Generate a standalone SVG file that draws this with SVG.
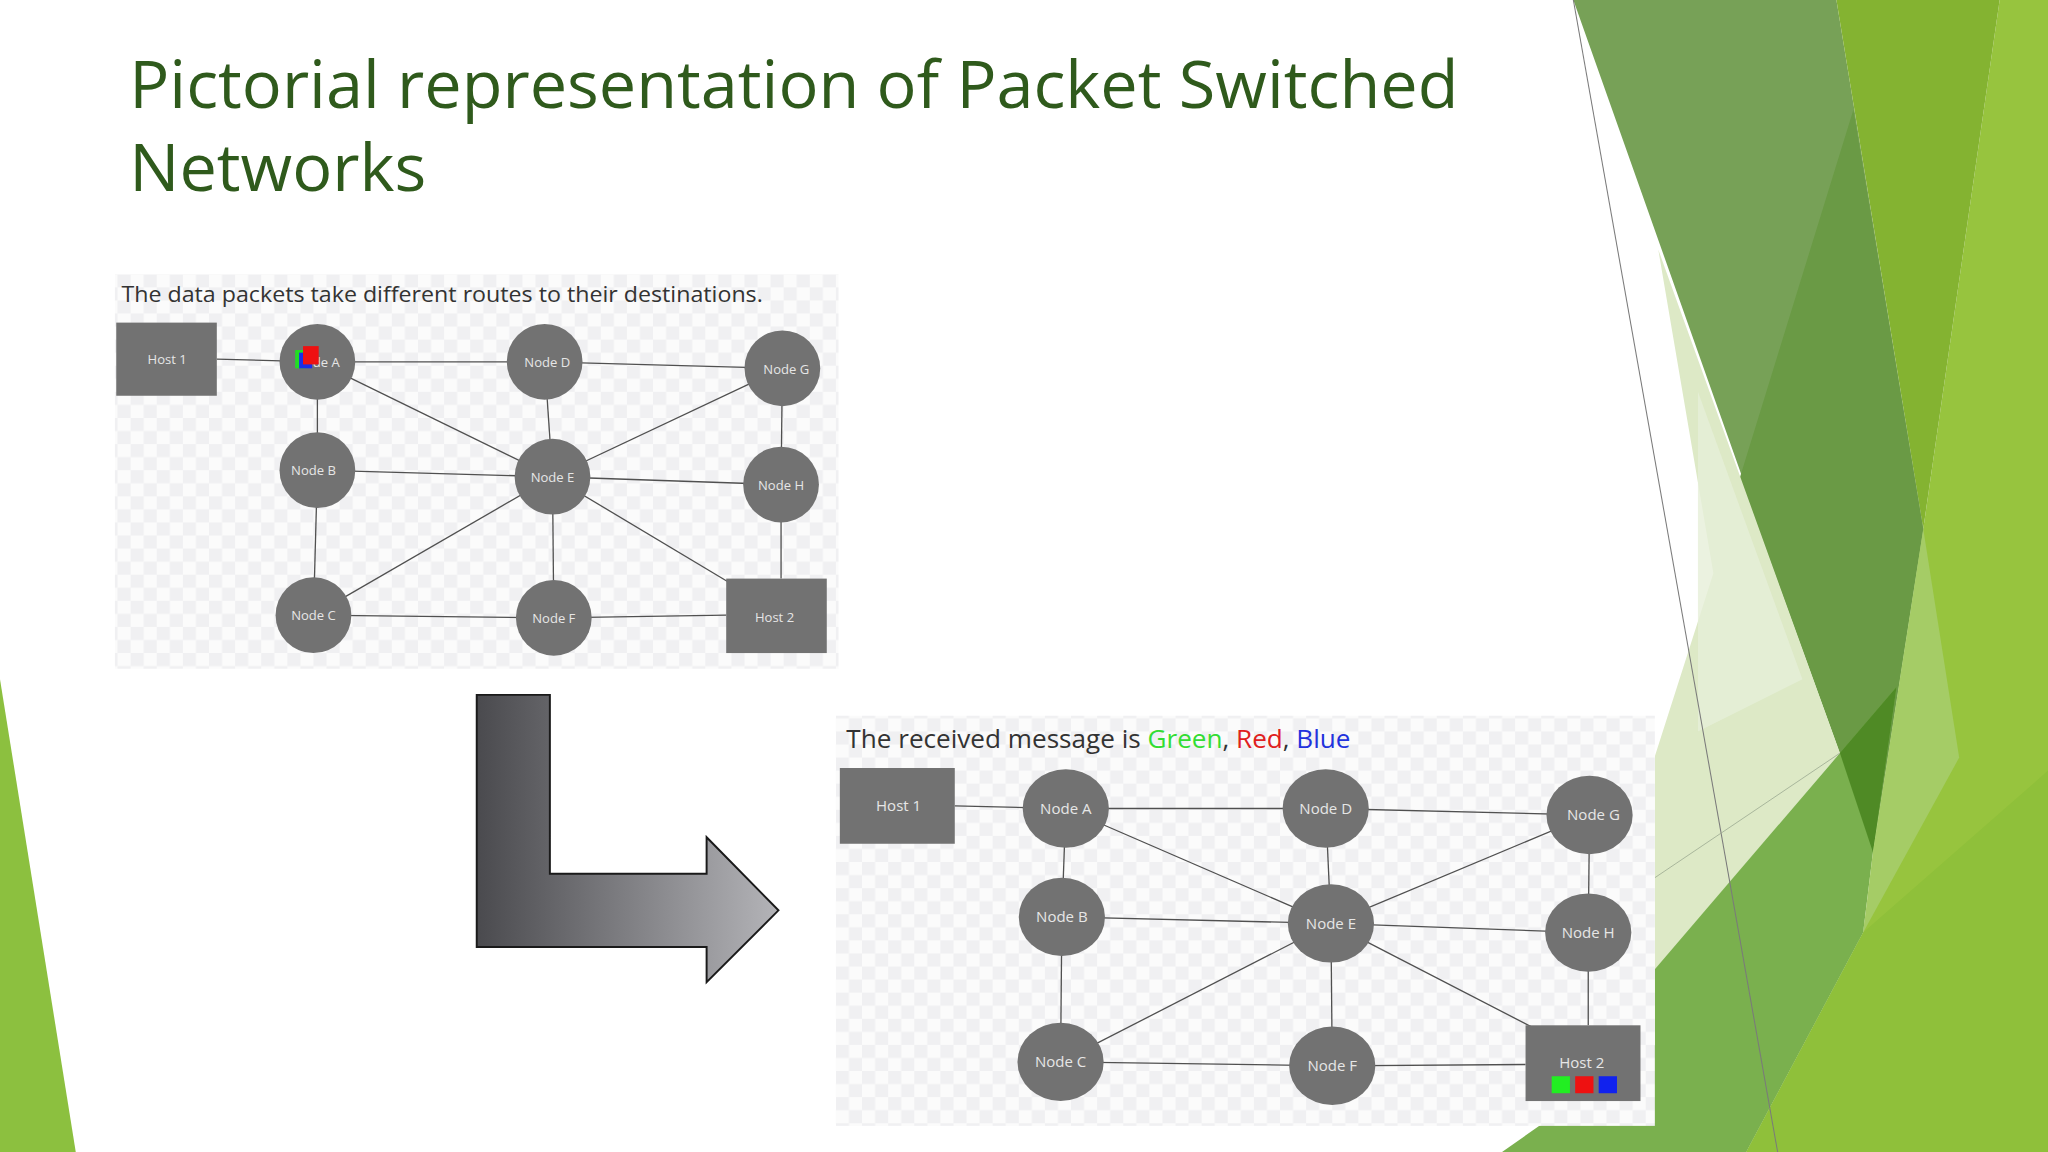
<svg xmlns="http://www.w3.org/2000/svg" width="2048" height="1152" viewBox="0 0 2048 1152">
<defs>
<pattern id="chk" width="20" height="20" patternUnits="userSpaceOnUse"><rect width="20" height="20" fill="#fbfbfb"/><rect width="10" height="10" fill="#f0f0f2"/><rect x="10" y="10" width="10" height="10" fill="#f0f0f2"/></pattern>
<linearGradient id="ag" x1="0" y1="0" x2="1" y2="0"><stop offset="0" stop-color="#4a4a4e"/><stop offset="1" stop-color="#b4b4b8"/></linearGradient>
<style>
.n{fill:#727272}
.t1{font-family:"Open Sans","Liberation Sans",sans-serif;font-size:10px;fill:#e6e6e6;text-anchor:middle}
.t2{font-family:"Open Sans","Liberation Sans",sans-serif;font-size:11.5px;fill:#e6e6e6;text-anchor:middle}
.e{stroke:#505050;stroke-width:1;fill:none}
.title{font-family:"Open Sans","Liberation Sans",sans-serif;font-size:51px;fill:#2f5a1c}
</style>
</defs>
<rect width="2048" height="1152" fill="#ffffff"/>
<g transform="scale(1.30612)">
<g id="decor">
<polygon points="0,520 0,882 58,882" fill="#8cc03f"/>
<polygon points="1531,0 1568,0 1568,882 1337,882 1426.5,714 1472.5,405" fill="#97c43e"/>
<polygon points="1204.6,0 1406,0 1472.5,405 1434,652.6 1408.7,576.6" fill="#77a157"/>
<polygon points="1406,0 1531,0 1472.5,405" fill="#84b331"/>
<polygon points="1332,366 1419,84 1472.5,405 1434,652.6 1408.7,576.6" fill="#6a9a45"/>
<polygon points="1269.6,191 1408.7,576.6 1267,742.6 1267,579 1311.8,438.8" fill="#dde9c6"/>
<polygon points="1300,300 1380,520 1300,560" fill="#e6efd8" opacity="0.8"/>
<polygon points="1267,742 1408.7,576.6 1452,526 1434,652.6 1426.5,714 1337,882 1150,882 1267,800" fill="#7ab04e"/>
<polygon points="1408.7,576.6 1452,526 1434,652.6" fill="#4f8a25"/>
<polygon points="1434,652 1472.5,405 1500,580 1426.5,714" fill="#a5cc66"/>
<polygon points="1337,882 1426.5,714 1568,590 1568,882" fill="#8fc03a"/>
<line x1="1204.6" y1="0" x2="1361" y2="882" stroke="#7a7a7a" stroke-width="0.8"/>
<line x1="1267" y1="672" x2="1408.7" y2="576.6" stroke="#9aa890" stroke-width="0.6"/>
</g>
<g id="title">
<text class="title" x="99" y="83">Pictorial representation of Packet Switched</text>
<text class="title" x="99" y="146">Networks</text>
</g>
<g id="diagram1">
<rect x="88" y="210" width="554" height="302" fill="url(#chk)"/>
<text x="93" y="231" font-family="'Open Sans','Liberation Sans',sans-serif" font-size="17" textLength="491" lengthAdjust="spacingAndGlyphs" fill="#333">The data packets take different routes to their destinations.</text>
<g id="d1-connectors" class="e">
<line x1="166" y1="275" x2="243" y2="277"/><line x1="243" y1="277" x2="417" y2="277"/><line x1="417" y1="277" x2="599" y2="282"/>
<line x1="243" y1="277" x2="243" y2="360"/><line x1="243" y1="277" x2="423" y2="365"/><line x1="417" y1="277" x2="423" y2="365"/>
<line x1="599" y1="282" x2="423" y2="365"/><line x1="599" y1="282" x2="598" y2="371"/><line x1="243" y1="360" x2="423" y2="365"/>
<line x1="423" y1="365" x2="598" y2="371"/><line x1="243" y1="360" x2="240" y2="471"/><line x1="240" y1="471" x2="423" y2="365"/>
<line x1="423" y1="365" x2="424" y2="473"/><line x1="423" y1="365" x2="565" y2="450"/><line x1="240" y1="471" x2="424" y2="473"/>
<line x1="424" y1="473" x2="556" y2="471"/><line x1="598" y1="371" x2="598" y2="443"/>
</g>
<g id="d1-host1"><rect class="n" x="89" y="247" width="77" height="56"/><text class="t1" x="128" y="279">Host 1</text></g>
<g id="d1-nodeA"><ellipse class="n" cx="243" cy="277" rx="29" ry="29"/><text class="t1" x="243" y="281">Node A</text>
<rect x="226" y="268" width="8" height="14" fill="#22dd22"/><rect x="229" y="270" width="10" height="12" fill="#1a2ee8"/><rect x="232" y="265" width="12" height="14" fill="#ee1111"/></g>
<g id="d1-nodeD"><ellipse class="n" cx="417" cy="277" rx="29" ry="29"/><text class="t1" x="419" y="281">Node D</text></g>
<g id="d1-nodeG"><ellipse class="n" cx="599" cy="282" rx="29" ry="29"/><text class="t1" x="602" y="286">Node G</text></g>
<g id="d1-nodeB"><ellipse class="n" cx="243" cy="360" rx="29" ry="29"/><text class="t1" x="240" y="364">Node B</text></g>
<g id="d1-nodeE"><ellipse class="n" cx="423" cy="365" rx="29" ry="29"/><text class="t1" x="423" y="369">Node E</text></g>
<g id="d1-nodeH"><ellipse class="n" cx="598" cy="371" rx="29" ry="29"/><text class="t1" x="598" y="375">Node H</text></g>
<g id="d1-nodeC"><ellipse class="n" cx="240" cy="471" rx="29" ry="29"/><text class="t1" x="240" y="475">Node C</text></g>
<g id="d1-nodeF"><ellipse class="n" cx="424" cy="473" rx="29" ry="29"/><text class="t1" x="424" y="477">Node F</text></g>
<g id="d1-host2"><rect class="n" x="556" y="443" width="77" height="57"/><text class="t1" x="593" y="476">Host 2</text></g>
</g>
<g id="bigArrow">
<polygon points="365,532 421,532 421,669 541,669 541,641 596,697 541,752 541,725 365,725" fill="url(#ag)" stroke="#1a1a1a" stroke-width="1.5"/>
</g>
<g id="diagram2">
<rect x="640" y="548" width="627" height="314" fill="url(#chk)"/>
<text x="648" y="573" font-family="'Open Sans','Liberation Sans',sans-serif" font-size="19" textLength="386" lengthAdjust="spacingAndGlyphs" fill="#333">The received message is <tspan fill="#33dd33">Green</tspan>, <tspan fill="#e02020">Red</tspan>, <tspan fill="#2233dd">Blue</tspan></text>
<g id="d2-connectors" class="e">
<line x1="731" y1="617" x2="816" y2="619"/><line x1="816" y1="619" x2="1015" y2="619"/><line x1="1015" y1="619" x2="1217" y2="624"/>
<line x1="816" y1="619" x2="813" y2="702"/><line x1="816" y1="619" x2="1019" y2="707"/><line x1="1015" y1="619" x2="1019" y2="707"/>
<line x1="1217" y1="624" x2="1019" y2="707"/><line x1="1217" y1="624" x2="1216" y2="714"/><line x1="813" y1="702" x2="1019" y2="707"/>
<line x1="1019" y1="707" x2="1216" y2="714"/><line x1="813" y1="702" x2="812" y2="813"/><line x1="812" y1="813" x2="1019" y2="707"/>
<line x1="1019" y1="707" x2="1020" y2="816"/><line x1="1019" y1="707" x2="1180" y2="790"/><line x1="812" y1="813" x2="1020" y2="816"/>
<line x1="1020" y1="816" x2="1168" y2="815"/><line x1="1216" y1="714" x2="1216" y2="785"/>
</g>
<g id="d2-host1"><rect class="n" x="643" y="588" width="88" height="58"/><text class="t2" x="688" y="621">Host 1</text></g>
<g id="d2-nodeA"><ellipse class="n" cx="816" cy="619" rx="33" ry="30"/><text class="t2" x="816" y="623">Node A</text></g>
<g id="d2-nodeD"><ellipse class="n" cx="1015" cy="619" rx="33" ry="30"/><text class="t2" x="1015" y="623">Node D</text></g>
<g id="d2-nodeG"><ellipse class="n" cx="1217" cy="624" rx="33" ry="30"/><text class="t2" x="1220" y="628">Node G</text></g>
<g id="d2-nodeB"><ellipse class="n" cx="813" cy="702" rx="33" ry="30"/><text class="t2" x="813" y="706">Node B</text></g>
<g id="d2-nodeE"><ellipse class="n" cx="1019" cy="707" rx="33" ry="30"/><text class="t2" x="1019" y="711">Node E</text></g>
<g id="d2-nodeH"><ellipse class="n" cx="1216" cy="714" rx="33" ry="30"/><text class="t2" x="1216" y="718">Node H</text></g>
<g id="d2-nodeC"><ellipse class="n" cx="812" cy="813" rx="33" ry="30"/><text class="t2" x="812" y="817">Node C</text></g>
<g id="d2-nodeF"><ellipse class="n" cx="1020" cy="816" rx="33" ry="30"/><text class="t2" x="1020" y="820">Node F</text></g>
<g id="d2-host2"><rect class="n" x="1168" y="785" width="88" height="58"/><text class="t2" x="1211" y="818">Host 2</text>
<rect x="1188" y="824" width="14" height="13" fill="#22ee22"/><rect x="1206" y="824" width="14" height="13" fill="#ee1111"/><rect x="1224" y="824" width="14" height="13" fill="#1122ee"/></g>
</g>
</g>
</svg>
